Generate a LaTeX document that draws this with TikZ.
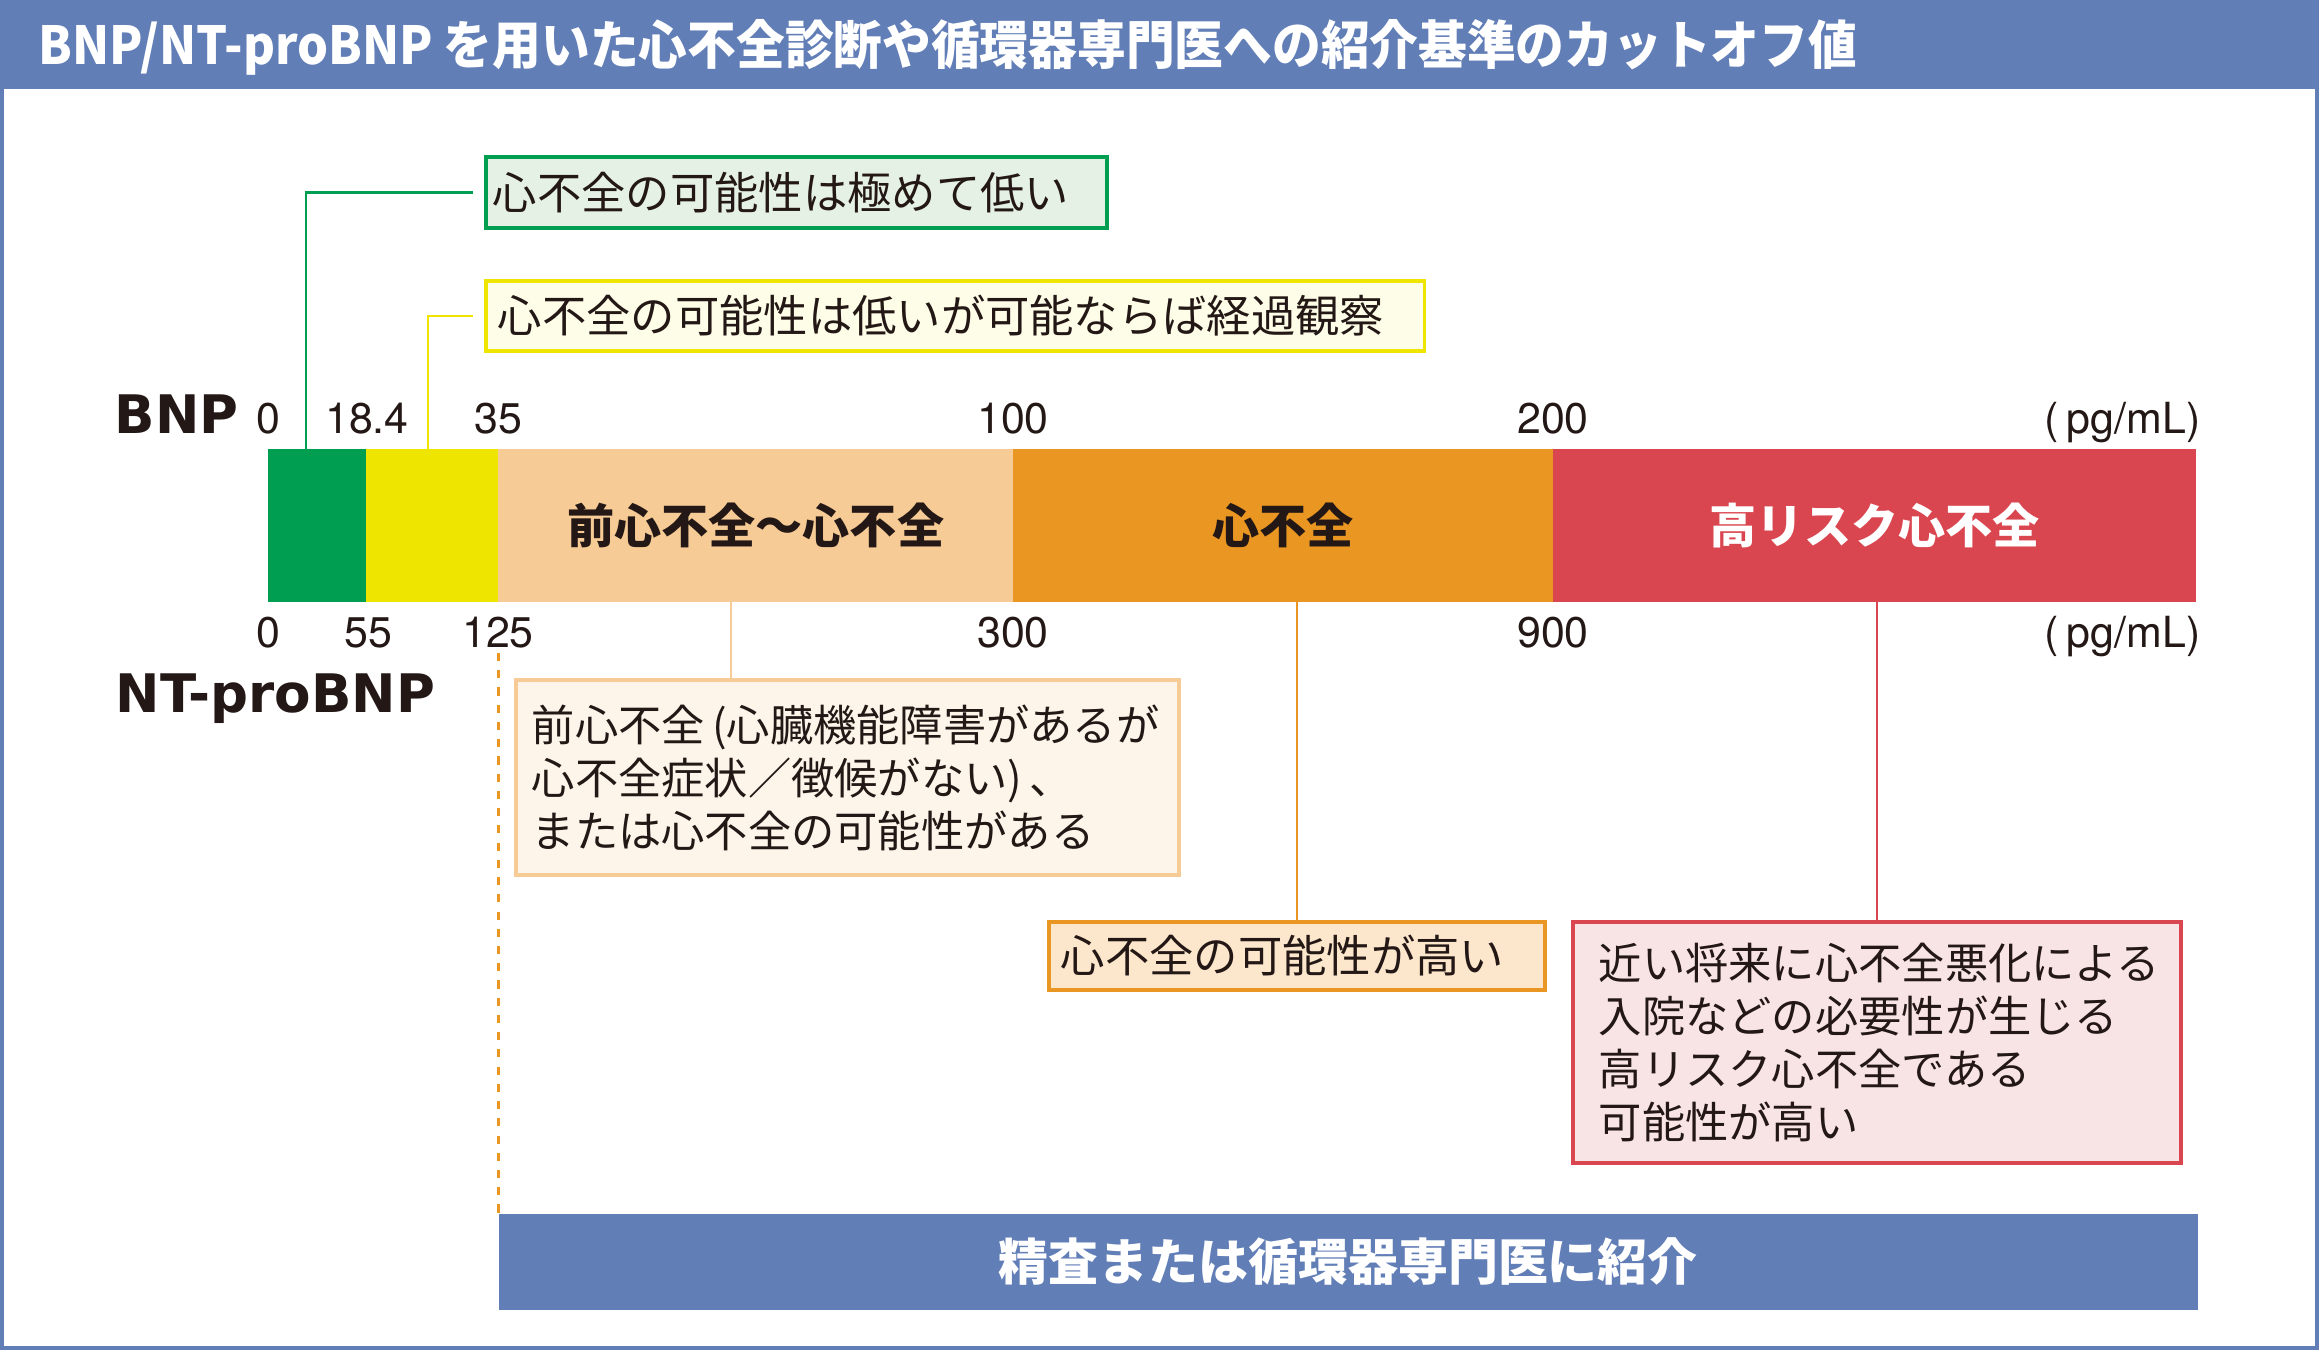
\documentclass[tikz,border=0pt]{standalone}
\usepackage{fontspec}
\setmainfont{TeX Gyre Heros}
\newfontfamily\jp{Noto Sans CJK JP}
\newfontfamily\jptitle{Noto Sans CJK JP}[FakeStretch=0.93]
\newfontfamily\marker{DejaVu Sans}
\usetikzlibrary{positioning}

\definecolor{headblue}{RGB}{97,126,183}
\definecolor{ink}{RGB}{35,24,21}
\definecolor{bgreen}{RGB}{0,158,80}
\definecolor{byellow}{RGB}{238,230,0}
\definecolor{bpre}{RGB}{246,203,149}
\definecolor{borange}{RGB}{233,150,34}
\definecolor{bred}{RGB}{218,70,80}
\definecolor{gfill}{RGB}{230,241,230}
\definecolor{yfill}{RGB}{253,253,232}
\definecolor{prefill}{RGB}{253,245,234}
\definecolor{hffill}{RGB}{252,230,204}
\definecolor{riskfill}{RGB}{248,228,228}

\begin{document}
\begin{tikzpicture}[x=0.01cm, y=-0.01cm,
    seg/.style={anchor=north west, minimum height=1.53cm, inner sep=0pt, outer sep=0pt,
        font=\jp\bfseries\fontsize{13.4}{16}\selectfont, text=ink},
    num/.style={anchor=base, inner sep=0pt, font=\fontsize{12.2}{14}\selectfont, text=ink},
    markname/.style={anchor=base west, inner sep=0pt, text=ink,
        font=\marker\bfseries\fontsize{15.1}{18}\selectfont},
    callout/.style={draw, line width=1.1pt, anchor=north west, align=left, inner ysep=0pt,
        font=\jp\fontsize{12.6}{15.1}\selectfont, text=ink},
    lead/.style={line width=0.75pt}]
    \useasboundingbox (0,0) rectangle (2319,1350);

    % header and frame
    \fill[headblue] (0,0) rectangle (2319,89);
    \draw[headblue, line width=1.2pt] (2,2) rectangle (2317,1348);
    \node[anchor=base west, inner sep=0pt, text=white,
        font=\jptitle\bfseries\fontsize{14.9}{17}\selectfont] (title) at (38,64)
        {BNP/NT-proBNP を用いた心不全診断や循環器専門医への紹介基準のカットオフ値};

    % marker names
    \node[markname] (bnp) at (114,433) {BNP};
    \node[markname] (ntpro) at (115,712) {NT-proBNP};

    % the bar
    \node[seg, fill=bgreen, minimum width=0.98cm] (sgreen) at (268,449) {};
    \node[seg, fill=byellow, minimum width=1.32cm] (syellow) at (366,449) {};
    \node[seg, fill=bpre, minimum width=5.15cm] (spre) at (498,449) {前心不全〜心不全};
    \node[seg, fill=borange, minimum width=5.40cm] (shf) at (1013,449) {心不全};
    \node[seg, fill=bred, minimum width=6.43cm, text=white] (srisk) at (1553,449) {高リスク心不全};

    % cut-off values
    \foreach \v/\x in {0/268, 18.4/367, 35/498, 100/1013, 200/1553}
        \node[num] (bnp-\v) at (\x,433) {\v};
    \foreach \v/\x in {0/268, 55/368, 125/498, 300/1013, 900/1553}
        \node[num] (nt-\v) at (\x,647) {\v};
    \node[num, anchor=base east] (unitb) at (2201,433) {(\hspace{0.18em}pg/mL)};
    \node[num, anchor=base east] (unitn) at (2201,647) {(\hspace{0.18em}pg/mL)};

    % callouts
    \node[callout, draw=bgreen, fill=gfill, minimum height=0.71cm,
        inner xsep=0.07cm, text width=6.07cm] (gbox) at (484,155)
        {心不全の可能性は極めて低い};
    \node[callout, draw=byellow, fill=yfill, minimum height=0.70cm,
        inner xsep=0.12cm, text width=9.14cm] (ybox) at (484,279)
        {心不全の可能性は低いが可能ならば経過観察};
    \node[callout, draw=bpre, fill=prefill, minimum height=1.95cm,
        inner xsep=0.16cm, text width=6.31cm, font=\jp\fontsize{12.3}{15.1}\selectfont] (prebox) at (514,678)
        {前心不全\,(心臓機能障害があるが\\心不全症状／徴候がない)\,、\\または心不全の可能性がある};
    \node[callout, draw=borange, fill=hffill, minimum height=0.68cm,
        inner xsep=0.12cm, text width=4.72cm] (hfbox) at (1047,920)
        {心不全の可能性が高い};
    \node[callout, draw=bred, fill=riskfill, minimum height=2.41cm,
        inner xsep=0.26cm, text width=5.56cm, font=\jp\fontsize{12.3}{15.1}\selectfont] (riskbox) at (1571,920)
        {近い将来に心不全悪化による\\入院などの必要性が生じる\\高リスク心不全である\\可能性が高い};

    % referral bar
    \node[anchor=north west, fill=headblue, minimum width=16.98cm, minimum height=0.96cm,
        inner sep=0pt, text=white, font=\jp\bfseries\fontsize{14.2}{16}\selectfont]
        (refer) at (498,1213) {精査または循環器専門医に紹介};

    % leader lines
    \draw[lead, draw=bgreen] ([xshift=-0.11cm]sgreen.north) |- ([xshift=-0.11cm]gbox.west);
    \draw[lead, draw=byellow] ([xshift=-0.04cm]syellow.north) |- ([xshift=-0.11cm]ybox.west);
    \coordinate (prept) at (731,602);
    \draw[lead, draw=bpre] (prept) -- (prept |- prebox.north);
    \draw[lead, draw=borange] (hfbox.north |- shf.south) -- (hfbox.north);
    \draw[lead, draw=bred] (riskbox.north |- srisk.south) -- (riskbox.north);
    \coordinate (dashtop) at (498,653);
    \draw[lead, draw=borange, line width=0.85pt, dash pattern=on 2.3pt off 2.6pt] (dashtop) -- (refer.north west);
\end{tikzpicture}
\end{document}
